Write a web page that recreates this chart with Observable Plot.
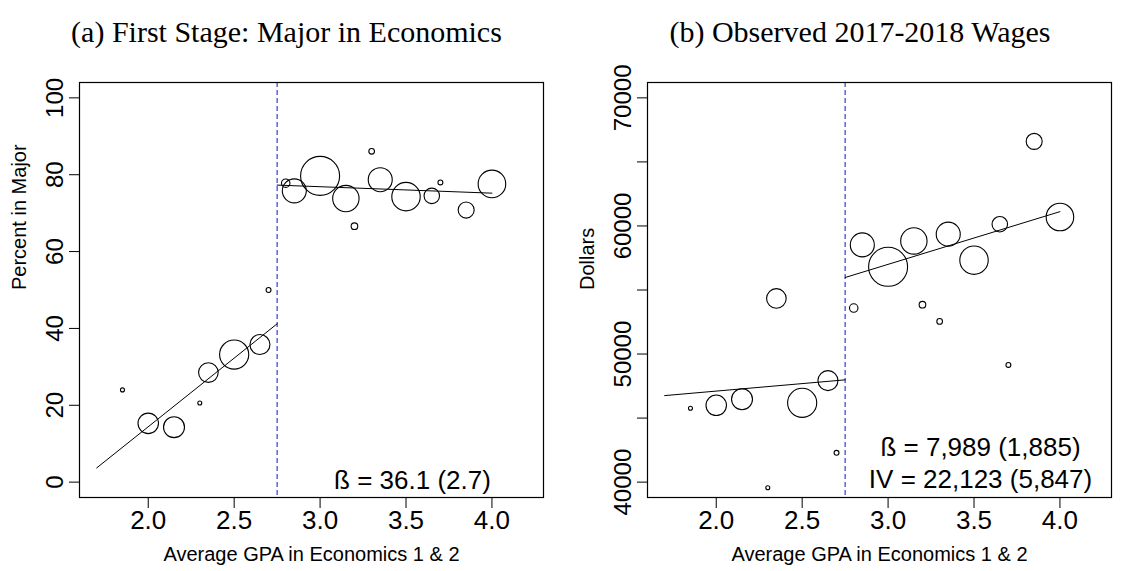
<!DOCTYPE html>
<html>
<head>
<meta charset="utf-8">
<script src="https://cdn.jsdelivr.net/npm/d3@7"></script>
<script src="https://cdn.jsdelivr.net/npm/@observablehq/plot@0.6"></script>
<style>
  body { margin: 0; background: #fff; width: 1135px; height: 571px; position: relative; overflow: hidden; }
  .title { position: absolute; top: 17px; font-family: "Liberation Serif", "Times New Roman", serif;
           font-size: 30px; line-height: 1; text-align: center; color: #000; white-space: nowrap; }
  .panel { position: absolute; top: 50px; }
</style>
</head>
<body>
<div class="title" style="left:0;width:573px">(a) First Stage: Major in Economics</div>
<div class="title" style="left:585px;width:550px">(b) Observed 2017-2018 Wages</div>
<div class="panel" id="major" style="left:0"></div>
<div class="panel" id="wages" style="left:568px"></div>
<script>
// Binned averages by GPA in Economics 1 & 2 (bubble area ~ students in bin)
const gpa      = [1.85, 2.0, 2.15, 2.3, 2.35, 2.5, 2.65, 2.7, 2.8, 2.85, 3.0, 3.15, 3.2, 3.3, 3.35, 3.5, 3.65, 3.7, 3.85, 4.0];
const students = [4, 105, 110, 4, 96, 212, 100, 6, 18, 144, 380, 174, 11, 8, 144, 202, 60, 6, 64, 190];
const pctMajor = [24.0, 15.3, 14.3, 20.6, 28.5, 33.2, 35.8, 50.0, 77.8, 75.8, 79.7, 73.8, 66.6, 86.1, 78.7, 74.3, 74.5, 78.0, 70.8, 77.6];
const wages    = [45770, 46000, 46470, 39560, 54340, 46190, 47925, 42290, 53590, 58520, 56810, 58830, 53850, 52550, 59360, 57330, 60135, 49150, 66600, 60700];

// Admission cutoff and local linear fits on each side of it
const cutoff = 2.75;
const fitGpa       = [1.7, 2.75, 2.75, 4.0];
const fitSide      = ["below", "below", "above", "above"];
const majorFit     = [3.7, 41.2, 77.3, 75.2];
const wageFit      = [46756, 47985, 55974, 61117];

// Axis ticks and labels
const gpaTicks   = [2.0, 2.5, 3.0, 3.5, 4.0];
const majorTicks = [0, 20, 40, 60, 80, 100];
const wageTicks  = [40000, 45000, 50000, 55000, 60000, 65000, 70000];
const xTitle = "Average GPA in Economics 1 & 2";
const majorNote = "ß = 36.1 (2.7)";
const wageNote  = "ß = 7,989 (1,885)\nIV = 22,123 (5,847)";

function panel({values, fit, yDomain, yTicks, yFormat, yTitle, note, noteDy}) {
  const bins = gpa.map((g, i) => ({gpa: g, n: students[i], v: values[i]}));
  const fitRows = fitGpa.map((g, i) => ({gpa: g, v: fit[i], side: fitSide[i]}));
  return Plot.plot({
    width: 567,
    height: 521,
    marginLeft: 79,
    marginRight: 24,
    marginTop: 32,
    marginBottom: 74,
    style: {fontFamily: '"Liberation Sans", Arial, sans-serif', background: "#fff", color: "#000"},
    x: {domain: [1.6, 4.3]},
    y: {domain: yDomain},
    r: {type: "sqrt", domain: [0, d3.max(students)], range: [0, 19.5]},
    marks: [
      Plot.axisX(gpaTicks, {tickSize: 11, tickPadding: 2, fontSize: 26, tickFormat: d3.format(".1f"), label: null}),
      Plot.axisY(yTicks, {tickSize: 10, tickPadding: 7, tickRotate: -90, fontSize: 24, tickFormat: yFormat, label: null}),
      Plot.text([xTitle], {text: d => d, frameAnchor: "bottom", lineAnchor: "bottom", dy: 63, fontSize: 20}),
      Plot.text([yTitle], {text: d => d, frameAnchor: "left", rotate: -90, dx: -59.5, fontSize: 20}),
      Plot.ruleX([cutoff], {stroke: "#2424d8", strokeWidth: 1.1, strokeDasharray: "5,3"}),
      Plot.line(fitRows, {x: "gpa", y: "v", z: "side", stroke: "#000", strokeWidth: 1}),
      Plot.dot(bins, {x: "gpa", y: "v", r: "n", stroke: "#000", strokeWidth: 1.1, fill: "none"}),
      Plot.text([note], {text: d => d, frameAnchor: "bottom-right", dx: -131, dy: noteDy,
                         textAnchor: "middle", lineAnchor: "bottom", fontSize: 26, lineHeight: 1.215}),
      Plot.frame({stroke: "#000", strokeWidth: 1.2})
    ]
  });
}

document.getElementById("major").append(panel({
  values: pctMajor, fit: majorFit, yDomain: [-4, 104], yTicks: majorTicks,
  yFormat: d => String(d), yTitle: "Percent in Major", note: majorNote, noteDy: -9
}));

document.getElementById("wages").append(panel({
  values: wages, fit: wageFit, yDomain: [38800, 71200], yTicks: wageTicks,
  yFormat: d => (d % 10000 === 0 ? String(d) : ""), yTitle: "Dollars", note: wageNote, noteDy: -10
}));
</script>
</body>
</html>
